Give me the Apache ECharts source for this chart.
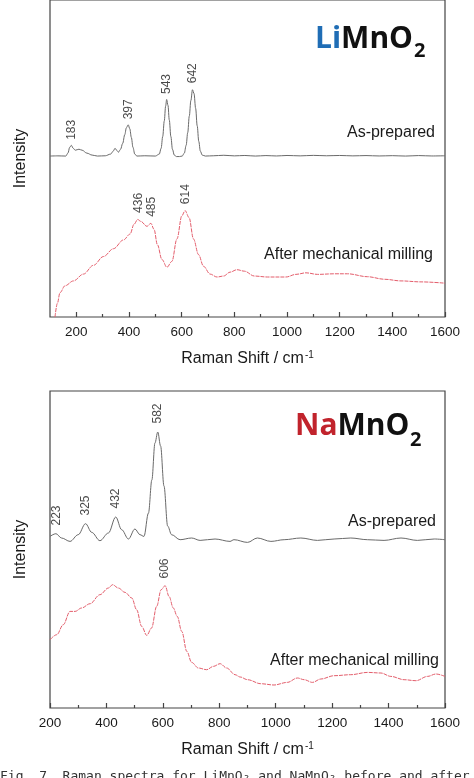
<!DOCTYPE html>
<html style="height: 100%">
<head>
<meta charset="utf-8">
<title>Raman spectra LiMnO2 / NaMnO2</title>
<script src="https://cdn.jsdelivr.net/npm/echarts@6.0.0/dist/echarts.min.js"></script>
</head>
<body style="height: 100%; margin: 0; background: #fff">
<div id="target" style="width: 474px; height: 778px"></div>
<script>
// [Raman shift cm-1, intensity (a.u., traces offset)]
let liPrepared = [
    [100, 165], [130, 165.2], [160, 165], [168, 168], [175, 174], [181, 176], [188, 173], [196, 171],
    [210, 172], [222, 171], [240, 168], [260, 166], [280, 165], [310, 165.3], [330, 167], [340, 170],
    [347, 173], [353, 171], [360, 169], [368, 172], [376, 178], [384, 187], [390, 194], [397, 197],
    [403, 193], [409, 184], [415, 174], [422, 167], [430, 165], [460, 165.3], [500, 165], [515, 167],
    [522, 173], [528, 185], [534, 201], [539, 216], [543, 223], [548, 217], [553, 202], [559, 185],
    [565, 172], [572, 166], [580, 164.5], [592, 164.5], [602, 165], [610, 168], [617, 176], [623, 189],
    [629, 206], [635, 222], [641, 233], [647, 229], [653, 214], [659, 196], [665, 180], [671, 170],
    [678, 166], [690, 165], [720, 165.3], [760, 165.8], [800, 165.2], [840, 165.6], [880, 165],
    [920, 165.5], [960, 165.1], [1000, 165.6], [1050, 165.2], [1100, 165.7], [1150, 165.3],
    [1200, 165.6], [1250, 165.2], [1300, 165.5], [1350, 165.1], [1400, 165.4], [1450, 165],
    [1500, 165.5], [1550, 165.1], [1600, 165.3]
];

let liMilled = [
    [119, 0], [128, 14], [138, 25], [157, 32], [189, 37], [227, 44], [265, 53], [303, 62],
    [341, 70], [379, 79], [404, 85], [419, 95], [433, 100], [445, 98], [468, 93], [483, 96],
    [495, 90], [508, 74], [525, 59], [544, 51], [563, 57], [582, 80], [601, 104], [613, 109],
    [628, 102], [645, 80], [664, 64], [683, 52], [708, 44], [734, 41], [759, 42], [784, 46],
    [810, 48.5], [838, 47], [876, 42], [926, 41], [996, 41], [1034, 43.7], [1072, 45.3],
    [1116, 43.7], [1180, 44.3], [1230, 44.3], [1306, 41.3], [1370, 38.7], [1433, 37],
    [1509, 36], [1600, 34.7]
];

let naPrepared = [
    [200, 171.6], [221, 174.3], [241, 170], [271, 166.6], [300, 173.3], [326, 184.3], [348, 175.6],
    [377, 167.3], [407, 175], [433, 191], [454, 178.3], [478, 169], [501, 179], [519, 173.3],
    [533, 171.6], [549, 195], [561, 228], [572, 265], [582, 276], [592, 262], [604, 222],
    [617, 182], [631, 173.3], [661, 168.3], [702, 170], [732, 167.6], [785, 169], [838, 166.6],
    [852, 168.3], [900, 165.6], [935, 170], [983, 166.6], [1030, 168.3], [1089, 170],
    [1148, 167.6], [1207, 169], [1266, 170], [1325, 168.3], [1384, 167.6], [1444, 170],
    [1502, 167.6], [1562, 169], [1600, 168.3]
];

let naMilled = [
    [200, 68.3], [224, 73.3], [247, 83.3], [271, 96.6], [289, 96.6], [312, 100], [342, 104.3],
    [377, 113.3], [407, 120], [422, 123.3], [442, 120], [466, 115.6], [490, 110], [507, 98.3],
    [525, 81.6], [543, 72.6], [560, 80], [578, 101.6], [594, 118.3], [608, 122.3], [622, 111.6],
    [637, 100], [651, 91.6], [667, 76.6], [685, 56.6], [702, 45.6], [726, 40], [755, 38.3],
    [779, 41.6], [803, 44.3], [826, 40], [856, 33.3], [874, 31], [900, 28.3], [947, 24.3],
    [994, 23], [1041, 25.6], [1077, 30], [1101, 28.3], [1130, 25.6], [1160, 29], [1207, 32.3],
    [1266, 33.3], [1325, 35.6], [1373, 35], [1408, 31.6], [1455, 28.3], [1497, 27.3],
    [1538, 31.6], [1568, 34], [1600, 31.6]
];

// peak positions labelled in the figure [shift, intensity]
let liPreparedPeaks = [[183, 176], [397, 197], [543, 223], [642, 234]];
let liMilledPeaks = [[436, 100], [485, 96], [614, 109]];
let naPreparedPeaks = [[223, 174], [325, 184], [432, 191], [582, 276]];
let naMilledPeaks = [[606, 122]];

let majorTicks = [200, 400, 600, 800, 1000, 1200, 1400, 1600];
let minorTicks = [300, 500, 700, 900, 1100, 1300, 1500];

let chart = echarts.init(document.getElementById('target'));

let FONT = '"Liberation Sans", Arial, sans-serif';
let AXIS_COLOR = '#444';
let GRAY = '#6a6a6a';
let RED = '#e35d6b';

let MakeXAxes = (gridIndex, min) => {
    let name = {
        name: 'Raman Shift / cm{sup|-1}',
        nameLocation: 'middle',
        nameGap: 33,
        nameTextStyle: {
            fontFamily: FONT,
            fontSize: 16,
            color: '#1a1a1a',
            rich: {
                sup: { fontSize: 10, verticalAlign: 'top', padding: [0, 0, 8, 1], fontFamily: FONT, color: '#1a1a1a' },
            },
        },
    };
    return [
        Object.assign({
            gridIndex: gridIndex,
            type: 'value',
            position: 'bottom',
            min: min,
            max: 1600,
            axisLine: { show: false },
            splitLine: { show: false },
            axisTick: { inside: true, length: 5, customValues: majorTicks, lineStyle: { color: AXIS_COLOR, width: 1.2 } },
            axisLabel: {
                customValues: majorTicks,
                formatter: v => String(v),
                fontFamily: FONT, fontSize: 13.5, color: '#1a1a1a', margin: 8,
            },
        }, name),
        {
            gridIndex: gridIndex,
            type: 'value',
            position: 'bottom',
            min: min,
            max: 1600,
            axisLine: { show: false },
            splitLine: { show: false },
            axisTick: { inside: true, length: 3, customValues: minorTicks, lineStyle: { color: AXIS_COLOR, width: 1.2 } },
            axisLabel: { show: false },
        },
    ];
};

let MakeYAxis = (gridIndex, max) => ({
    gridIndex: gridIndex,
    type: 'value',
    min: 0,
    max: max,
    name: 'Intensity',
    nameLocation: 'middle',
    nameGap: 21,
    nameTextStyle: { fontFamily: FONT, fontSize: 16, color: '#1a1a1a' },
    axisLine: { show: false },
    axisTick: { show: false },
    axisLabel: { show: false },
    splitLine: { show: false },
});

let MakeLine = (xIdx, yIdx, data, color, dashed) => ({
    type: 'line',
    xAxisIndex: xIdx,
    yAxisIndex: yIdx,
    data: data,
    showSymbol: false,
    smooth: 0.35,
    smoothMonotone: 'x',
    silent: true,
    lineStyle: { color: color, width: 1, type: dashed ? [4, 1] : 'solid' },
});

let MakePeaks = (xIdx, yIdx, data, dist) => ({
    type: 'scatter',
    xAxisIndex: xIdx,
    yAxisIndex: yIdx,
    data: data,
    symbolSize: 1,
    silent: true,
    itemStyle: { color: 'rgba(0,0,0,0)' },
    label: {
        show: true,
        position: 'top',
        distance: dist,
        rotate: 90,
        align: 'left',
        verticalAlign: 'middle',
        offset: [2, 0],
        fontFamily: FONT,
        fontSize: 12,
        color: '#1a1a1a',
        formatter: p => String(p.value[0]),
    },
});

let SideText = (text, right, y) => ({
    type: 'text',
    right: right,
    top: y,
    style: { text: text, fontFamily: FONT, fontSize: 16, fill: '#1a1a1a' },
});

let option = {
    backgroundColor: '#fff',
    animation: false,
    grid: [
        // top edge of the upper frame lies above the picture
        { left: 50, right: 29, top: -8, height: 325, show: true, borderColor: AXIS_COLOR, borderWidth: 1.2 },
        { left: 50, right: 29, top: 391, height: 317, show: true, borderColor: AXIS_COLOR, borderWidth: 1.2 },
    ],
    xAxis: [].concat(MakeXAxes(0, 100), MakeXAxes(1, 200)),
    yAxis: [MakeYAxis(0, 325), MakeYAxis(1, 317)],
    series: [
        MakeLine(0, 0, liPrepared, GRAY, false),
        MakeLine(0, 0, liMilled, RED, true),
        MakeLine(2, 1, naPrepared, GRAY, false),
        MakeLine(2, 1, naMilled, RED, true),
        MakePeaks(0, 0, liPreparedPeaks, 3),
        MakePeaks(0, 0, liMilledPeaks, 4),
        MakePeaks(2, 1, naPreparedPeaks, 6),
        MakePeaks(2, 1, naMilledPeaks, 5),
    ],
    graphic: [
        // compound names
        {
            type: 'text', left: 315, top: 24,
            style: {
                text: '{li|Li}{m|MnO}',
                rich: {
                    li: { fill: '#1f6db5', fontFamily: '"Open Sans", sans-serif', fontWeight: 'bold', fontSize: 30 },
                    m: { fill: '#111', fontFamily: '"Open Sans", sans-serif', fontWeight: 'bold', fontSize: 30 },
                },
            },
        },
        { type: 'text', left: 414, top: 41, style: { text: '2', fill: '#111', fontFamily: '"Open Sans", sans-serif', fontWeight: 'bold', fontSize: 20 } },
        {
            type: 'text', left: 295, top: 411,
            style: {
                text: '{na|Na}{m|MnO}',
                rich: {
                    na: { fill: '#c1232c', fontFamily: '"Open Sans", sans-serif', fontWeight: 'bold', fontSize: 30 },
                    m: { fill: '#111', fontFamily: '"Open Sans", sans-serif', fontWeight: 'bold', fontSize: 30 },
                },
            },
        },
        { type: 'text', left: 410, top: 430, style: { text: '2', fill: '#111', fontFamily: '"Open Sans", sans-serif', fontWeight: 'bold', fontSize: 20 } },

        // trace names
        SideText('As-prepared', 39, 125),
        SideText('After mechanical milling', 41, 247),
        SideText('As-prepared', 38, 514),
        SideText('After mechanical milling', 35, 653),

        // caption, cut by the bottom edge
        {
            type: 'text', left: 0, top: 770,
            style: {
                text: 'Fig. 7  Raman spectra for LiMnO\u2082 and NaMnO\u2082 before and after',
                fontFamily: '"DejaVu Sans Mono", monospace', fontSize: 13, fill: '#333',
            },
        },
    ],
};

chart.setOption(option);
</script>
</body>
</html>
